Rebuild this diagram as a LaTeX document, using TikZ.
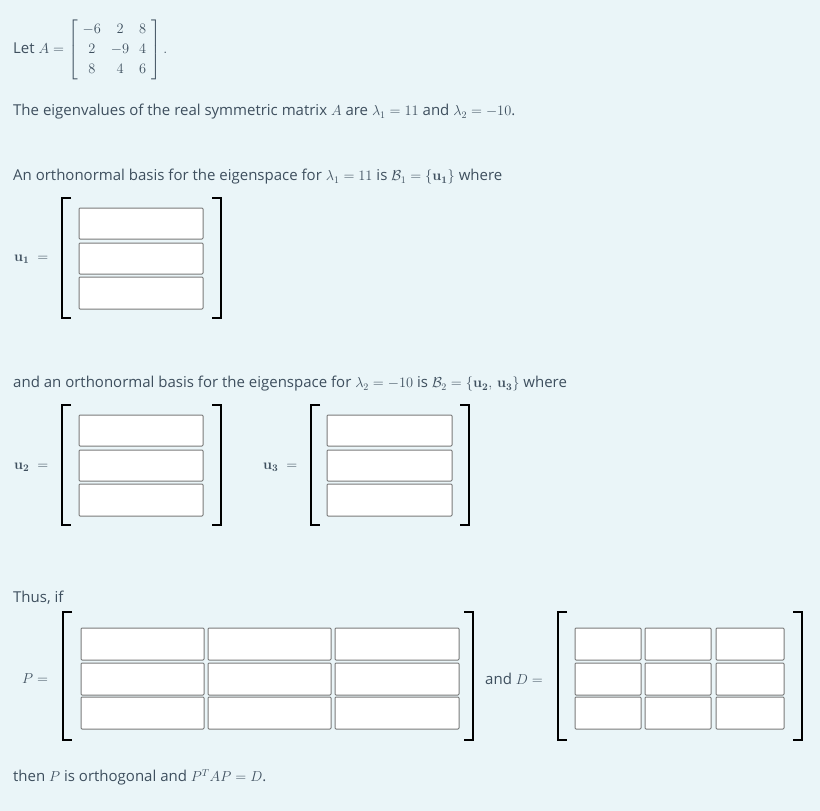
\documentclass[tikz,border=0pt]{standalone}
\usepackage{amsmath,amssymb}
\usepackage[no-math]{fontspec}
\setmainfont{Open Sans}
\DeclareMathSizes{15}{14.4}{10}{7}
\definecolor{bg}{HTML}{EAF5F8}
\definecolor{txt}{HTML}{3E4F5E}
\definecolor{boxb}{HTML}{7A7A7A}
\begin{document}
\begin{tikzpicture}[x=1pt,y=-1pt,
  every node/.style={inner sep=0pt,text=txt,font=\fontsize{15}{18}\selectfont},
  lbl/.style={anchor=west},
  inbox/.style={draw=boxb,fill=white,line width=1pt,rounded corners=1pt},
  brk/.style={line width=1.6pt,black}]
\fill[bg] (0,0) rectangle (820,811);
\useasboundingbox (0,0) rectangle (820,811);
\node[lbl] (leta) at (13,50) {Let $A=\left[\begin{array}{ccc}-6&2&8\\[2pt]2&-9&4\\[2pt]8&4&6\end{array}\right].$};
\node[lbl] (eig) at (13,112) {The eigenvalues of the real symmetric matrix $A$ are $\lambda_1=11$ and $\lambda_2=-10$.};
\node[lbl] (on1) at (13,177) {An orthonormal basis for the eigenspace for $\lambda_1=11$ is $\mathcal{B}_1=\{\mathbf{u_1}\}$ where};
\node[lbl] (on2) at (13,384) {and an orthonormal basis for the eigenspace for $\lambda_2=-10$ is $\mathcal{B}_2=\{\mathbf{u_2},\,\mathbf{u_3}\}$ where};
\node[lbl] (thus) at (13,598) {Thus, if};
\node[lbl] (then) at (13,777) {then $P$ is orthogonal and $P^TAP=D$.};
\node[lbl] (u1) at (14,259) {$\mathbf{u_1}\;=$};
\node[lbl] (u2) at (14,467) {$\mathbf{u_2}\;=$};
\node[lbl] (u3) at (263,467) {$\mathbf{u_3}\;=$};
\node[lbl] (pl) at (22,679) {$P=$};
\node[lbl] (dl) at (485,679) {and $D=$};
\newcommand\mybrk[4]{%
 \draw[brk] (#1+9,#3)--(#1,#3)--(#1,#4)--(#1+9,#4);
 \draw[brk] (#2-9,#3)--(#2,#3)--(#2,#4)--(#2-9,#4);}
\mybrk{62}{221}{198}{318}
\mybrk{62}{221}{405}{525}
\mybrk{311}{469}{405}{525}
\mybrk{63}{473}{612}{740}
\mybrk{558}{802}{612}{740}
\foreach \t/\b in {208/239,243/274,277/309}{
  \draw[inbox] (79,\t) rectangle (203,\b);}
\foreach \t/\b in {415/446,450/481,484/516}{
  \draw[inbox] (79,\t) rectangle (203,\b);
  \draw[inbox] (327,\t) rectangle (452,\b);}
\foreach \t/\b in {628/660,663/695,697/729}{
  \foreach \l/\r in {81/204,208/331,335/459}{\draw[inbox] (\l,\t) rectangle (\r,\b);}
  \foreach \l/\r in {575/641,645/711,716/784}{\draw[inbox] (\l,\t) rectangle (\r,\b);}}
\end{tikzpicture}
\end{document}
